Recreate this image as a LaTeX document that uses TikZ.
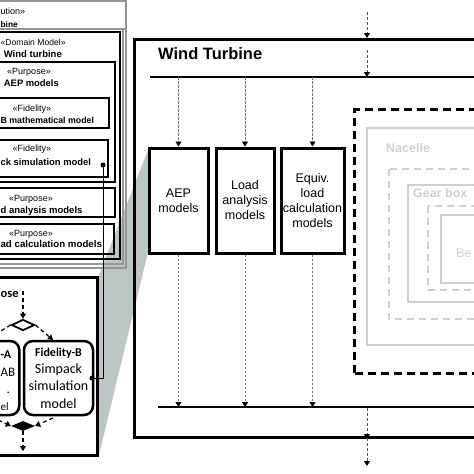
\documentclass[tikz,border=0pt]{standalone}
\usepackage{fontspec}
\setmainfont{Liberation Sans}
\newfontfamily\calib{Carlito}
\usetikzlibrary{arrows.meta,shapes.geometric}
\definecolor{funnel}{RGB}{188,198,196}
\definecolor{lgray}{RGB}{208,208,208}
\definecolor{mgray}{RGB}{150,150,150}
\definecolor{dgray}{RGB}{115,115,115}
\begin{document}
\begin{tikzpicture}[x=1pt,y=-1pt,
  tri/.style={-{Triangle[width=6pt,length=5pt,black]}},
  dotarrow/.style={tri, draw=dgray, line width=0.8pt, dash pattern=on 2.5pt off 1.5pt},
  entryarrow/.style={tri, draw=dgray!70!black, line width=1pt, dash pattern=on 3pt off 2pt},
  barline/.style={line width=2.5pt},
  mbox/.style={draw, line width=3pt, fill=white, align=center, inner sep=0pt, minimum height=105pt, font=\fontsize{12.5}{15}\selectfont},
  ulgray/.style={draw=mgray, line width=1.3pt},
  ulblack/.style={draw=black, line width=1.3pt},
  ulsmall/.style={inner sep=0pt, font=\fontsize{9}{11}\selectfont},
  ulbold/.style={inner sep=0pt, font=\bfseries\fontsize{9.5}{11}\selectfont},
  gsolid/.style={draw=lgray, line width=1.5pt},
  gdashed/.style={draw=lgray, line width=2pt, dash pattern=on 7pt off 5pt},
  gtext/.style={inner sep=0pt, text=lgray, font=\bfseries\fontsize{12.5}{15}\selectfont},
  pdash/.style={tri, draw=black, line width=1.2pt, dash pattern=on 4pt off 3pt},
  ptext/.style={inner sep=0pt, font=\calib\fontsize{13}{17}\selectfont},
  ptitle/.style={inner sep=0pt, font=\calib\bfseries\fontsize{12}{17}\selectfont},
  fidbox/.style={draw, rounded corners=9pt, line width=2.5pt, fill=white, minimum height=74pt, inner sep=0pt},
  blackdot/.style={circle, fill=black, inner sep=0pt, minimum size=5pt}
]
\useasboundingbox (0,0) rectangle (474,474);
\clip (0,0) rectangle (474,474);
\fill[white] (0,0) rectangle (474,474);

% zoom funnel
\fill[funnel] (148,150) -- (148,252) -- (99,455) -- (99,275) -- cycle;

% ---------- Wind turbine block ----------
\node[draw, line width=3pt, minimum width=362pt, minimum height=398pt, inner sep=0pt, anchor=north west] (wt) at (133,38) {};
\node[anchor=base west, inner sep=0pt, font=\bfseries\fontsize{16.5}{20}\selectfont] (wttitle) at (158,59) {Wind Turbine};

\coordinate (tbL) at (150,77);
\coordinate (tbR) at (495,77);
\coordinate (bbL) at (158,407);
\coordinate (bbR) at (495,407);
\draw[barline] (tbL) -- (tbR);
\draw[barline] (bbL) -- (bbR);

\coordinate (inTop) at (367,12);
\coordinate (inMid) at (367,50);
\coordinate (outA) at (367,408);
\coordinate (outB) at (367,438);
\coordinate (outEnd) at (367,466);
\draw[entryarrow] (inTop) -- (inTop |- wt.north);
\draw[entryarrow] (inMid) -- (inMid |- tbL);
\draw[entryarrow] (outA) -- (outA |- wt.south);
\draw[entryarrow] (outB) -- (outEnd);

\node[mbox, minimum width=59pt] (aep) at (178.5,200.5) {AEP\\models};
\node[mbox, minimum width=58pt] (load) at (245,200.5) {Load\\analysis\\models};
\node[mbox, minimum width=63pt] (equiv) at (312.5,200.5) {Equiv.\\load\\calculation\\models};

\foreach \b in {aep,load,equiv}{
  \draw[dotarrow] (\b.north |- tbL) -- (\b.north);
  \draw[dotarrow] (\b.south) -- (\b.south |- bbL);
}

% sub-system dashed block
\node[draw, line width=3pt, dash pattern=on 8pt off 5pt, minimum width=150pt, minimum height=264pt, inner sep=0pt, anchor=north west] (sub) at (353,108) {};
\draw[gsolid] (367,128) rectangle (495,345);
\node[gtext, anchor=base west] (nacelle) at (386,152) {Nacelle};
\draw[gdashed] (389,169) rectangle (495,319);
\draw[gsolid] (408,185) rectangle (495,302);
\node[gtext, anchor=base west] (gearbox) at (413,197) {Gear box};
\draw[gdashed] (428,206) rectangle (495,290);
\draw[gsolid] (441,215) rectangle (495,283);
\node[gtext, anchor=base west, font=\fontsize{12.5}{15}\selectfont] (bearing) at (456,257) {Be};

% ---------- upper-left containment tree ----------
\draw[ulgray] (-60,1) rectangle (126,268);
\draw[ulgray] (-60,29) -- (126,29);
\draw[ulgray] (-60,29) rectangle (123,264);
\draw[ulblack] (-60,32) rectangle (120,259);
\draw[ulblack] (-60,62) rectangle (115,182);
\draw[ulblack] (-60,98) rectangle (109,128);
\draw[ulblack] (-60,140) rectangle (108,177);
\draw[ulblack] (-60,188) rectangle (115,217);
\draw[ulblack] (-60,224) rectangle (114,254);

\node[ulsmall, anchor=base west] (t1) at (0.4,14) {ution»};
\node[ulbold, anchor=base west, font=\bfseries\fontsize{8.4}{11}\selectfont] (t2) at (0.4,27) {bine};
\node[ulsmall, anchor=base west, font=\fontsize{8.6}{11}\selectfont] (t3) at (0.4,45) {«Domain Model»};
\node[ulbold, anchor=base east] (t4) at (62,57) {Wind turbine};
\node[ulsmall, anchor=base] (t5) at (29,74) {«Purpose»};
\node[ulbold, anchor=base east, font=\bfseries\fontsize{9.4}{11}\selectfont] (t6) at (59,86) {AEP models};
\node[ulsmall, anchor=base] (t7) at (32,111) {«Fidelity»};
\node[ulbold, anchor=base west, font=\bfseries\fontsize{8.8}{11}\selectfont] (t8) at (0.4,123) {B mathematical model};
\node[ulsmall, anchor=base] (t9) at (32,151) {«Fidelity»};
\node[ulbold, anchor=base west, font=\bfseries\fontsize{9.4}{11}\selectfont] (t10) at (0.4,165) {ck simulation model};
\node[ulsmall, anchor=base] (t11) at (31,201) {«Purpose»};
\node[ulbold, anchor=base west] (t12) at (0.4,213) {d analysis models};
\node[ulsmall, anchor=base] (t13) at (31,236) {«Purpose»};
\node[ulbold, anchor=base west, font=\bfseries\fontsize{9.7}{11}\selectfont] (t14) at (0.4,247) {ad calculation models};

% ---------- lower-left purpose activity ----------
\node[draw, line width=3pt, fill=white, anchor=north east, minimum width=170pt, minimum height=178pt, inner sep=0pt] (pp) at (99,276) {};
\node[inner sep=0pt, anchor=base west, font=\calib\bfseries\fontsize{12.5}{16}\selectfont] (ptitlenode) at (0.4,297) {ose};

\node[diamond, draw, line width=1.8pt, fill=white, minimum width=23pt, minimum height=11pt, inner sep=0pt] (dec) at (23,325) {};
\coordinate (pin) at (23,291);
\coordinate (faIn) at (-22,345);
\coordinate (fbIn) at (53,340);
\draw[pdash] (pin) -- (dec.north);
\draw[pdash, -] (dec.west) -- (faIn);
\draw[pdash] (dec.east) -- (fbIn);

\node[fidbox, minimum width=80pt, anchor=east] (fa) at (20.5,378) {};
\node[fidbox, minimum width=69pt, align=center, font=\calib\fontsize{14}{17.3}\selectfont] (fb) at (58.5,378)
  {{\bfseries\fontsize{12}{17.3}\selectfont Fidelity-B}\\Simpack\\simulation\\model};

\node[ptitle, anchor=base west] (fa1) at (0.4,358) {-A};
\node[ptext, anchor=base west] (fa2) at (0.4,376) {AB};
\node[ptext, anchor=base east] (fa3) at (10,393) {.};
\node[ptext, anchor=base west, font=\calib\fontsize{11}{17}\selectfont] (fa4) at (0.4,410) {el};

\node[diamond, fill=black, minimum width=24pt, minimum height=10pt, inner sep=0pt] (mrg) at (23,426) {};
\coordinate (fbOut) at (53,418);
\coordinate (faOut) at (-8,417);
\coordinate (pout) at (23,451);
\draw[pdash] (fbOut) -- (mrg.east);
\draw[pdash] (faOut) -- (mrg.west);
\draw[pdash] (mrg.south) -- (pout);

% link between the two views
\node[blackdot] (d1) at (103,165) {};
\node[blackdot] (d2) at (92,378) {};
\draw[line width=1pt] (d1.center) |- (d2.center);
\end{tikzpicture}
\end{document}
